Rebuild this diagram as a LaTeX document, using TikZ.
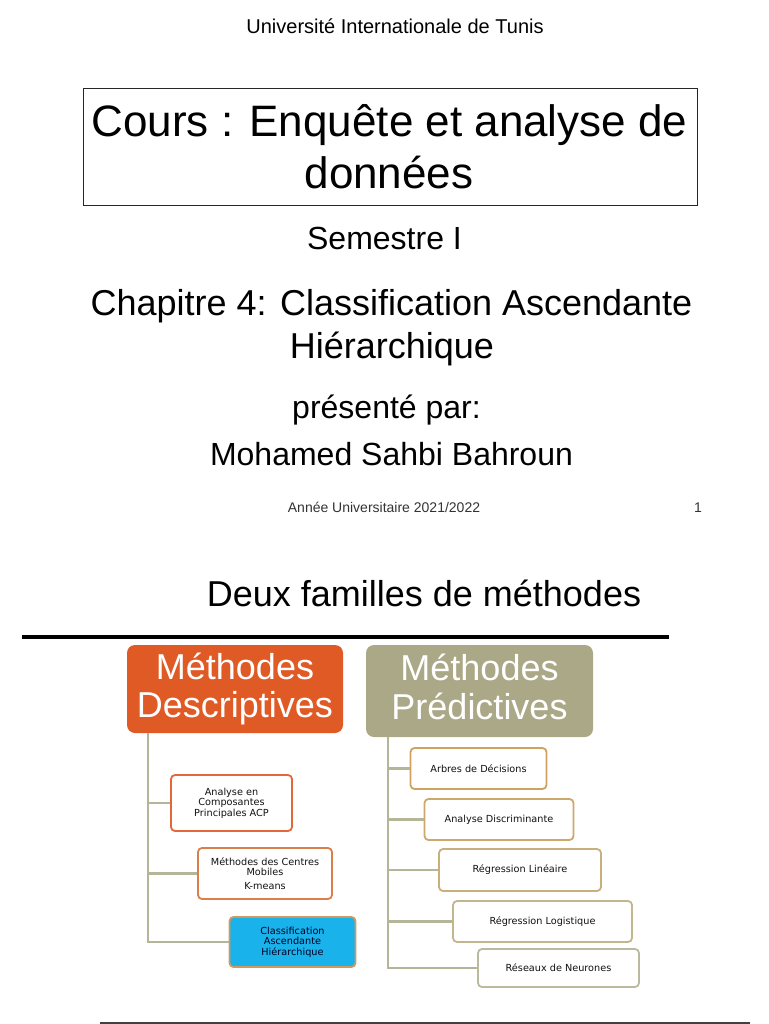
\documentclass[tikz,border=0pt]{standalone}
\usepackage{fontspec}
\setmainfont{Liberation Sans}
\newfontfamily\dejav{DejaVu Sans}
\definecolor{orng}{HTML}{E05A26}
\definecolor{olivef}{HTML}{ABA888}
\definecolor{cyanb}{HTML}{1AB2EA}
\definecolor{connc}{HTML}{B5B598}
\definecolor{bl1}{HTML}{E2683A}
\definecolor{bl2}{HTML}{D9804A}
\definecolor{bl3}{HTML}{CF9A62}
\definecolor{br1}{HTML}{CFA25E}
\definecolor{br2}{HTML}{CCA86C}
\definecolor{br3}{HTML}{C8B07C}
\definecolor{br4}{HTML}{C2B68E}
\definecolor{br5}{HTML}{BBBA9E}
\definecolor{txt}{HTML}{111111}
\begin{document}
\begin{tikzpicture}[x=1pt,y=-1pt,
  txtnode/.style={inner sep=0pt, anchor=base},
  bigbox/.style={rounded corners=8pt, inner sep=0pt},
  bigtext/.style={txtnode, text=white, font=\fontsize{36}{38}\selectfont},
  leaf/.style={draw, line width=1.8pt, rounded corners=4pt, fill=white, inner sep=0pt,
     align=center, text=txt, font=\dejav\fontsize{9.7}{10.5}\selectfont},
  connector/.style={draw=connc, line width=2.6pt}
]
\useasboundingbox (0,0) rectangle (768,1024);

% top texts
\node[txtnode, font=\fontsize{20}{22}\selectfont] (univ) at (395,34) {Université Internationale de Tunis};
\node[draw=black!85, line width=1pt, minimum width=614, minimum height=117, inner sep=0pt] (tbox) at (390,147.5) {};
\node[txtnode, font=\fontsize{44}{50}\selectfont] (t1) at (389.5,137) {Cours : Enquête et analyse de};
\node[txtnode, font=\fontsize{44}{50}\selectfont] (t2) at (389,189) {données};
\node[txtnode, font=\fontsize{32}{36}\selectfont] (sem) at (384.5,249) {Semestre I};
\node[txtnode, font=\fontsize{36}{40}\selectfont] (ch1) at (391.5,315) {Chapitre 4: Classification Ascendante};
\node[txtnode, font=\fontsize{36}{40}\selectfont] (ch2) at (392,358) {Hiérarchique};
\node[txtnode, font=\fontsize{32}{36}\selectfont] (pres) at (386.5,418) {présenté par:};
\node[txtnode, font=\fontsize{32}{36}\selectfont] (auth) at (391.5,465) {Mohamed Sahbi Bahroun};
\node[txtnode, font=\fontsize{14}{16}\selectfont, text=black!80] (annee) at (384,512) {Année Universitaire 2021/2022};
\node[txtnode, font=\fontsize{14}{16}\selectfont, text=black!80] (pg) at (698,512) {1};

% second slide title
\node[txtnode, font=\fontsize{36}{40}\selectfont] (deux) at (424,606) {Deux familles de méthodes};
\coordinate (r1) at (22,637);
\coordinate (r2) at (669,637);
\draw[line width=4.5pt] (r1) -- (r2);

% big boxes
\node[bigbox, fill=orng, minimum width=216, minimum height=88] (desc) at (235,689) {};
\node[bigtext] (desc1) at (235,679) {Méthodes};
\node[bigtext] (desc2) at (235,717) {Descriptives};
\node[bigbox, fill=olivef, minimum width=227, minimum height=92] (pred) at (479.5,691) {};
\node[bigtext] (pred1) at (479.5,680) {Méthodes};
\node[bigtext] (pred2) at (479.5,719) {Prédictives};

% left leaves
\node[leaf, draw=bl1, minimum width=121, minimum height=56] (l1) at (231.5,803)
  {Analyse en\\Composantes\\Principales ACP};
\node[leaf, draw=bl2, minimum width=134, minimum height=51] (l2) at (265,873.5)
  {Méthodes des Centres\\Mobiles\\[3.5pt]K-means};
\node[leaf, draw=bl3, fill=cyanb, text=black!85!blue, minimum width=126, minimum height=50] (l3) at (292.5,942)
  {Classification\\Ascendante\\Hiérarchique};

% right leaves
\node[leaf, draw=br1, minimum width=136, minimum height=41] (p1) at (478.5,768.5) {Arbres de Décisions};
\node[leaf, draw=br2, minimum width=149, minimum height=41] (p2) at (499,819.5) {Analyse Discriminante};
\node[leaf, draw=br3, minimum width=162, minimum height=42] (p3) at (520,870) {Régression Linéaire};
\node[leaf, draw=br4, minimum width=179, minimum height=41] (p4) at (542.5,921.5) {Régression Logistique};
\node[leaf, draw=br5, minimum width=161, minimum height=38] (p5) at (558.5,968) {Réseaux de Neurones};

% connectors
\coordinate (lt) at (148,733);
\coordinate (rt) at (388,737);
\path[connector] (lt) |- (l3.west);
\path[connector] (lt |- l1.west) -- (l1.west);
\path[connector] (lt |- l2.west) -- (l2.west);
\path[connector] (rt) |- (p5.west);
\path[connector] (rt |- p1.west) -- (p1.west);
\path[connector] (rt |- p2.west) -- (p2.west);
\path[connector] (rt |- p3.west) -- (p3.west);
\path[connector] (rt |- p4.west) -- (p4.west);

% bottom rule
\coordinate (b1) at (100,1023);
\coordinate (b2) at (750,1023);
\draw[line width=1.2pt, black!75] (b1) -- (b2);
\end{tikzpicture}
\end{document}
